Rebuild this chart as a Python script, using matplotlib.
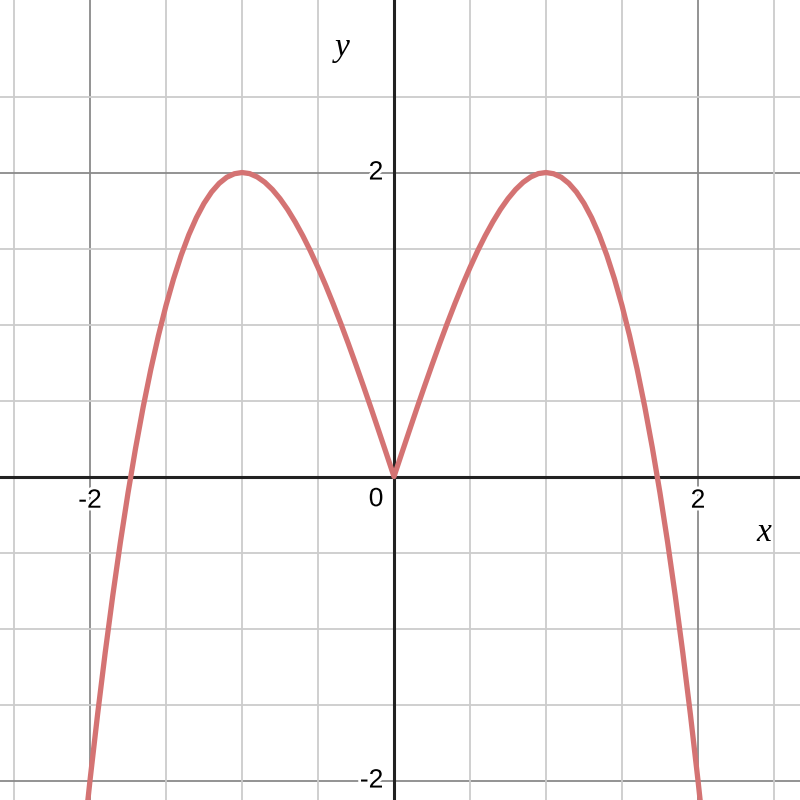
import numpy as np
import matplotlib
matplotlib.use("Agg")
import matplotlib.pyplot as plt
import matplotlib.patheffects as pe

# points (x >= 0 half; the curve is symmetric about the y axis)
x_half = [0.0, 0.05, 0.1, 0.15, 0.2, 0.25, 0.3, 0.35, 0.4, 0.45, 0.5,
          0.55, 0.6, 0.65, 0.7, 0.75, 0.8, 0.85, 0.9, 0.95, 1.0,
          1.05, 1.1, 1.15, 1.2, 1.25, 1.3, 1.35, 1.4, 1.45, 1.5,
          1.55, 1.6, 1.65, 1.7, 1.75, 1.8, 1.85, 1.9, 1.95, 2.0, 2.05]
y_half = [0.0, 0.150, 0.299, 0.447, 0.592, 0.734, 0.873, 1.007, 1.136, 1.259, 1.375,
          1.484, 1.584, 1.675, 1.757, 1.828, 1.888, 1.936, 1.971, 1.993, 2.0,
          1.992, 1.969, 1.929, 1.872, 1.797, 1.703, 1.590, 1.456, 1.301, 1.125,
          0.926, 0.704, 0.458, 0.187, -0.109, -0.432, -0.782, -1.159, -1.565, -2.0, -2.465]

x_vals = [-v for v in x_half[::-1]] + x_half[1:]
y_vals = y_half[::-1] + y_half[1:]

tick_vals = [-2, 2]

fig = plt.figure(figsize=(8, 8), dpi=100)
ax = fig.add_axes([0, 0, 1, 1])
ax.set_xlim(-2.592, 2.671)
ax.set_ylim(-2.128, 3.135)
ax.axis("off")

# grid
for g in np.arange(-2.5, 3.0, 0.5):
    major = abs(g - round(g)) < 1e-9 and int(round(g)) % 2 == 0
    col = "#8a8a8a" if major else "#cccccc"
    ax.axvline(g, color=col, lw=1.3, zorder=1)
    ax.axhline(g, color=col, lw=1.3, zorder=1)

# axes
ax.axhline(0, color="#222222", lw=2.2, zorder=2)
ax.axvline(0, color="#222222", lw=2.2, zorder=2)

ax.plot(x_vals, y_vals, color="#d47373", lw=3.8, zorder=3,
        solid_capstyle="round", solid_joinstyle="round")

halo = [pe.withStroke(linewidth=4, foreground="white")]
fs = 19
for t in tick_vals:
    ax.text(t, -0.08, str(t), ha="center", va="top", fontsize=fs,
            family="Liberation Sans", path_effects=halo, zorder=4)
    ax.text(-0.07, t, str(t), ha="right", va="center", fontsize=fs,
            family="Liberation Sans", path_effects=halo, zorder=4)
ax.text(-0.07, -0.07, "0", ha="right", va="top", fontsize=fs,
        family="Liberation Sans", path_effects=halo, zorder=4)

ax.text(2.43, -0.37, "x", fontsize=24, style="italic", family="Liberation Serif",
        ha="center", va="center", zorder=4)
ax.text(-0.34, 2.82, "y", fontsize=24, style="italic", family="Liberation Serif",
        ha="center", va="center", zorder=4)

fig.savefig("out.png", dpi=100)
